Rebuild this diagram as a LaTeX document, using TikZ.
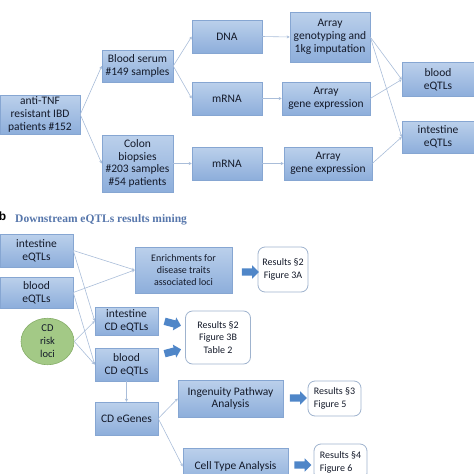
\documentclass[tikz,border=0pt]{standalone}
\usepackage{fontspec}
\setmainfont{Carlito}
\newfontfamily\titlefont{Liberation Serif}
\newfontfamily\labfont{Liberation Sans}
\usetikzlibrary{shapes.geometric,shapes.arrows,arrows.meta}
\definecolor{boxtop}{HTML}{BBD0EB}
\definecolor{boxbot}{HTML}{8DAEDB}
\definecolor{boxline}{HTML}{86A6D2}
\definecolor{txt}{HTML}{141A2A}
\definecolor{conn}{HTML}{A9BDD9}
\definecolor{barrow}{HTML}{4F86C8}
\definecolor{resline}{HTML}{9FB3CE}
\definecolor{lociFill}{HTML}{A3C986}
\definecolor{lociLine}{HTML}{86AE68}
\definecolor{titleblue}{HTML}{5676AB}
\tikzset{
  bluebox/.style={draw=boxline, line width=0.5pt, top color=boxtop, bottom color=boxbot,
    text=txt, align=center, inner sep=1pt, font=\fontsize{11.5}{12.8}\selectfont},
  resbox/.style={draw=resline, line width=0.8pt, fill=white, rounded corners=7pt,
    text=txt, align=center, inner sep=1pt, font=\fontsize{10}{12.8}\selectfont},
  conline/.style={draw=conn, line width=0.6pt, -{Stealth[length=3pt,width=3pt]}},
  blockarrow/.style={single arrow, fill=barrow, draw=none, inner xsep=0pt, inner ysep=3.5pt,
    minimum height=17pt, single arrow head extend=3pt},
  lociell/.style={ellipse, draw=lociLine, fill=lociFill, line width=0.6pt, text=txt,
    align=center, inner sep=0pt, font=\fontsize{10.5}{13}\selectfont}
}
\begin{document}
\begin{tikzpicture}[x=1pt,y=-1pt]
\useasboundingbox (0,0) rectangle (474,474);
\clip (0,0) rectangle (474,474);
% ---------- panel a ----------
\node[bluebox, minimum width=80pt, minimum height=39pt] (tnf) at (40,114.5) {anti-TNF\\resistant IBD\\patients \#152};
\node[bluebox, minimum width=71pt, minimum height=32pt] (serum) at (137.5,66) {Blood serum\\\#149 samples};
\node[bluebox, minimum width=70pt, minimum height=33pt] (dna) at (227,36.5) {DNA};
\node[bluebox, minimum width=80pt, minimum height=50pt] (geno) at (330,37) {Array\\genotyping and\\1kg imputation};
\node[bluebox, minimum width=70pt, minimum height=33pt] (mrnaA) at (227,98.5) {mRNA};
\node[bluebox, minimum width=88pt, minimum height=33pt] (exprA) at (326,98.5) {Array\\gene expression};
\node[bluebox, minimum width=72pt, minimum height=34pt] (blood) at (438,79.5) {blood\\eQTLs};
\node[bluebox, minimum width=72pt, minimum height=32pt] (intest) at (438,137) {intestine\\eQTLs};
\node[bluebox, minimum width=71pt, minimum height=57pt] (colon) at (137.5,163.5) {Colon\\biopsies\\\#203 samples\\\#54 patients};
\node[bluebox, minimum width=70pt, minimum height=33pt] (mrnaB) at (227,163.5) {mRNA};
\node[bluebox, minimum width=88pt, minimum height=33pt] (exprB) at (328,163.5) {Array\\gene expression};

\draw[conline] (tnf.east) -- (serum.west);
\draw[conline] (tnf.east) -- (colon.west);
\draw[conline] (serum.east) -- (dna.west);
\draw[conline] (serum.east) -- (mrnaA.west);
\draw[conline] (dna.east) -- (geno.west);
\draw[conline] (mrnaA.east) -- (exprA.west);
\draw[conline] (colon.east) -- (mrnaB.west);
\draw[conline] (mrnaB.east) -- (exprB.west);
\draw[conline] (geno.east) -- (blood.west);
\draw[conline] (geno.east) -- (intest.west);
\draw[conline] (exprA.east) -- (blood.west);
\draw[conline] (exprB.east) -- (intest.west);

% ---------- panel b ----------
\node[anchor=east, font=\labfont\bfseries\fontsize{12}{12}\selectfont, inner sep=0pt] (blab) at (6.5,216) {b};
\node[anchor=west, font=\titlefont\bfseries\fontsize{11.5}{12}\selectfont, text=titleblue, inner sep=0pt] (btitle) at (15,220) {Downstream eQTLs results mining};

\node[bluebox, minimum width=73pt, minimum height=33pt] (ie) at (36.5,250.5) {intestine\\eQTLs};
\node[bluebox, minimum width=73pt, minimum height=31pt] (be) at (36.5,292.5) {blood\\eQTLs};
\node[bluebox, minimum width=97pt, minimum height=46pt, font=\fontsize{10}{11.7}\selectfont] (enr) at (183.5,270) {Enrichments for\\disease traits\\associated loci};
\node[resbox, minimum width=50pt, minimum height=45pt] (resA) at (283,269.5) {Results §2\\Figure 3A};
\node[bluebox, minimum width=63pt, minimum height=28pt] (icd) at (126.5,321) {intestine\\CD eQTLs};
\node[lociell, minimum width=53pt, minimum height=37pt] (loci) at (47.5,341.5) {CD\\risk\\loci};
\node[bluebox, minimum width=63pt, minimum height=33pt] (bcd) at (126.5,364.5) {blood\\CD eQTLs};
\node[resbox, minimum width=65pt, minimum height=53pt] (resB) at (218,337.5) {Results §2\\Figure 3B\\Table 2};
\node[bluebox, minimum width=63pt, minimum height=33pt] (egenes) at (126.5,418.5) {CD eGenes};
\node[bluebox, minimum width=105pt, minimum height=37pt] (ipa) at (230.5,398.5) {Ingenuity Pathway\\Analysis};
\node[resbox, align=left, minimum width=53pt, minimum height=35pt] (resC) at (334.5,398.5) {Results §3\\Figure 5};
\node[bluebox, minimum width=105pt, minimum height=37pt] (cta) at (235.5,466.5) {Cell Type Analysis};
\node[resbox, align=left, minimum width=53pt, minimum height=36pt] (resD) at (340.5,462) {Results §4\\Figure 6};

\node[blockarrow] (baA) at (248.5,272) {};
\node[blockarrow, rotate=-15] (baB) at (171,323) {};
\node[blockarrow, rotate=15] (baC) at (171,352) {};
\node[blockarrow] (baD) at (296.5,398) {};
\node[blockarrow] (baE) at (301,465) {};

\draw[conline] (ie.east) -- (enr.west);
\draw[conline] (be.east) -- (enr.west);
\draw[conline] (ie.east) -- (icd.west);
\draw[conline] (be.east) -- (bcd.west);
\draw[conline] (loci.east) -- (icd.west);
\draw[conline] (loci.east) -- (bcd.west);
\draw[conline] (bcd.south) -- (egenes.north);
\draw[conline] (egenes.east) -- (ipa.west);
\draw[conline] (egenes.east) -- (cta.west);
\end{tikzpicture}
\end{document}
